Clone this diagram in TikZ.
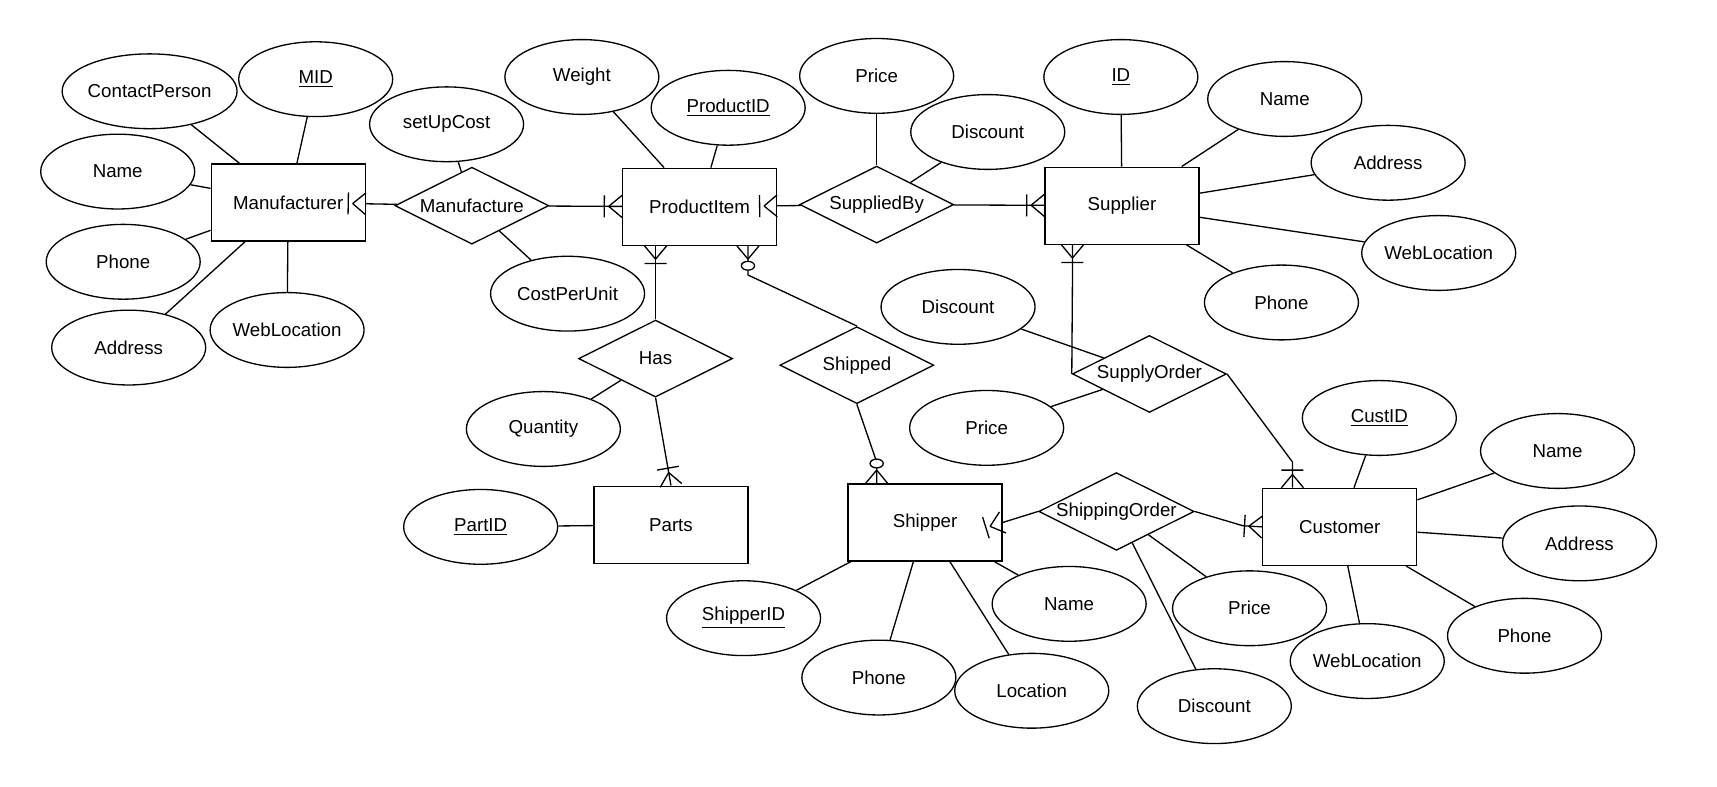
\documentclass[tikz,border=0pt]{standalone}
\usepackage{fontspec}
\setmainfont{Liberation Sans}
\usetikzlibrary{shapes.geometric}
\begin{document}
\begin{tikzpicture}[x=0.5pt,y=-0.5pt,line width=0.6pt,
  every node/.style={font=\fontsize{8.5}{10}\selectfont},
  ent/.style={draw,rectangle,minimum width=70pt,minimum height=35pt,inner sep=0pt},
  rel/.style={draw,diamond,aspect=2,minimum width=70pt,minimum height=35pt,inner sep=0pt},
  attr/.style={draw,ellipse,minimum width=70pt,minimum height=34pt,inner sep=0pt},
  crowbar/.pic={\draw (-6pt,0)--(0,5pt) (-6pt,0)--(0,-5pt) (-8pt,-5pt)--(-8pt,5pt);},
  crowcirc/.pic={\draw (-6pt,0)--(0,5pt) (-6pt,0)--(0,-5pt); \draw[fill=white] (-9pt,0) ellipse (2pt and 3pt);}]
\useasboundingbox (0,0) rectangle (1561,715);
% entities
\node[ent] (man) at (262,184) {Manufacturer};
\node[ent] (pi) at (636,188) {ProductItem};
\node[ent] (sup) at (1020,187) {Supplier};
\node[ent] (parts) at (610,477) {Parts};
\node[ent] (ship) at (841,475) {Shipper};
\node[ent] (cust) at (1218,479) {Customer};
% relations
\node[rel] (rman) at (429,187) {Manufacture};
\node[rel] (rsb) at (797,186) {SuppliedBy};
\node[rel] (rhas) at (596,326) {Has};
\node[rel] (rshp) at (779,332) {Shipped};
\node[rel] (rso) at (1045,340) {SupplyOrder};
\node[rel] (rsho) at (1015,465) {ShippingOrder};
% attributes
\node[attr] (a1) at (136,83) {ContactPerson};
\node[attr] (a2) at (287,72) {\underline{MID}};
\node[attr] (a3) at (107,156) {Name};
\node[attr] (a4) at (112,238) {Phone};
\node[attr] (a5) at (117,316) {Address};
\node[attr] (a6) at (261,300) {WebLocation};
\node[attr] (a7) at (406,113) {setUpCost};
\node[attr] (a8) at (516,267) {CostPerUnit};
\node[attr] (a9) at (529,70) {Weight};
\node[attr] (a10) at (662,98) {\underline{ProductID}};
\node[attr] (a11) at (797,69) {Price};
\node[attr] (a12) at (898,120) {Discount};
\node[attr] (a13) at (1019,70) {\underline{ID}};
\node[attr] (a14) at (1168,90) {Name};
\node[attr] (a15) at (1262,148) {Address};
\node[attr] (a16) at (1308,230) {WebLocation};
\node[attr] (a17) at (1165,275) {Phone};
\node[attr] (a18) at (871,279) {Discount};
\node[attr] (a19) at (897,389) {Price};
\node[attr] (a20) at (494,390) {Quantity};
\node[attr] (a21) at (437,479) {\underline{PartID}};
\node[attr] (a22) at (676,562) {\underline{ShipperID}};
\node[attr] (a23) at (799,616) {Phone};
\node[attr] (a24) at (938,628) {Location};
\node[attr] (a25) at (972,549) {Name};
\node[attr] (a26) at (1136,553) {Price};
\node[attr] (a27) at (1104,642) {Discount};
\node[attr] (a28) at (1243,601) {WebLocation};
\node[attr] (a29) at (1386,578) {Phone};
\node[attr] (a30) at (1436,494) {Address};
\node[attr] (a31) at (1416,410) {Name};
\node[attr] (a32) at (1254,380) {\underline{CustID}};
% attribute lines
\foreach \a/\b in {a1/man,a2/man,a3/man,a4/man,a5/man,a6/man,a7/rman,a8/rman,a9/pi,a10/pi,
  a11/rsb,a12/rsb,a13/sup,a14/sup,a15/sup,a16/sup,a17/sup,a18/rso,a19/rso,a20/rhas,a21/parts,
  a22/ship,a23/ship,a24/ship,a25/ship,a26/rsho,a27/rsho,a28/cust,a29/cust,a30/cust,a31/cust,a32/cust}
  \draw (\a) -- (\b);
% relationship lines
\draw (rman) -- (man) pic[pos=1,sloped]{crowbar};
\draw (rman) -- (pi) pic[pos=1,sloped]{crowbar};
\draw (rsb) -- (pi) pic[pos=1,sloped]{crowbar};
\draw (rsb) -- (sup) pic[pos=1,sloped]{crowbar};
\draw (rhas.north) -- (rhas.north |- pi.south) pic[pos=1,sloped]{crowbar};
\draw (rhas.south) -- (parts.north) pic[pos=1,sloped]{crowbar};
\coordinate (k1) at (680,250);
\coordinate (k2) at (797,420);
\coordinate (k3) at (975,255);
\coordinate (k4) at (1175,420);
\coordinate (k5) at (1130,478);
\draw (rshp.north) -- (k1) -- (k1 |- pi.south) pic[pos=1,sloped]{crowcirc};
\draw (rshp.south) -- (k2) -- (k2 |- ship.north) pic[pos=1,sloped]{crowcirc};
\draw (rso.west) -- (k3) -- (k3 |- sup.south) pic[pos=1,sloped]{crowbar};
\draw (rso.east) -- (k4) -- (k4 |- cust.north) pic[pos=1,sloped]{crowbar};
\draw (rsho.west) -- (ship.east) pic[pos=1,sloped]{crowbar};
\draw (rsho.east) -- (k5) -- (cust.west) pic[pos=1,sloped]{crowbar};
\end{tikzpicture}
\end{document}
